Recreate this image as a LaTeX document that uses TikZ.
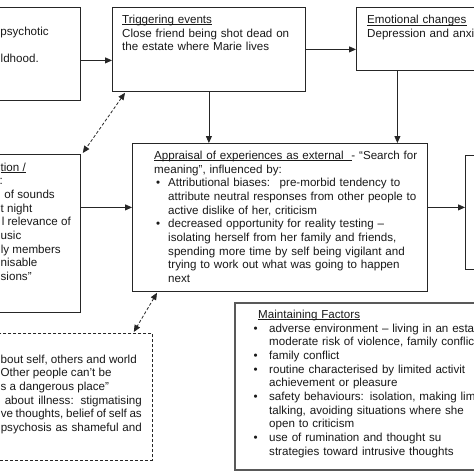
\documentclass[tikz,border=0pt]{standalone}
\usepackage{fontspec}
\setmainfont{Liberation Sans}
\usetikzlibrary{arrows.meta,calc}
\newcommand\myul[1]{\setbox0\hbox{#1}\rlap{\rule[-1.7pt]{\wd0}{0.6pt}}\box0}
\newcommand\bulA{\makebox[14pt][l]{\hspace{2pt}\textbullet}}
\newcommand\indA{\hspace*{14pt}}
\newcommand\bulB{\makebox[16pt][l]{\hspace{0.5pt}\textbullet}}
\newcommand\indB{\hspace*{16pt}}
\begin{document}
\begin{tikzpicture}[x=1pt,y=-1pt,
  box/.style={draw=black!85, line width=0.8pt, inner sep=0pt, anchor=north west},
  dbox/.style={box, dash pattern=on 3pt off 2pt},
  mbox/.style={box, draw=black!65, line width=1.6pt},
  txt/.style={inner sep=0pt, font=\fontsize{11.6}{13.7}\selectfont, text=black!90},
  para/.style={txt, anchor=base west, align=left},
  frag/.style={txt, anchor=base east},
  lfrag/.style={txt, anchor=base west},
  arr/.style={-{Triangle[length=7pt,width=6pt]}, line width=0.8pt, draw=black!85},
  darr/.style={{Triangle[length=7pt,width=6pt]}-{Triangle[length=7pt,width=6pt]}, line width=0.8pt, draw=black!85, dash pattern=on 3pt off 2pt}]
\useasboundingbox (0,0) rectangle (474,474);
\clip (0,0) rectangle (474,474);
\fill[white] (0,0) rectangle (474,474);

% boxes
\node[box, minimum width=90pt, minimum height=93pt] (hist) at (-10,7) {};
\node[box, minimum width=193pt, minimum height=84pt] (trig) at (112,7) {};
\node[box, minimum width=134pt, minimum height=63pt] (emo) at (356,7) {};
\node[box, minimum width=90pt, minimum height=158pt] (lm) at (-10,154) {};
\node[box, minimum width=295pt, minimum height=148pt] (appr) at (132,143) {};
\node[box, minimum width=25pt, minimum height=114pt] (rbox) at (465,155) {};
\node[dbox, minimum width=162pt, minimum height=127pt] (db) at (-10,333) {};
\node[mbox, minimum width=256pt, minimum height=167pt] (maint) at (234,302) {};

% top-left fragments
\node[frag] (h1) at (49,35.5) {psychotic};
\node[lfrag] (h2) at (0.5,62.9) {ldhood.};

% triggering
\node[para, text width=190pt] (trigtext) at (122,23.3) {\myul{Triggering events}\\Close friend being shot dead on\\the estate where Marie lives};

% emotional
\node[para, text width=120pt] (emotext) at (367,23.5) {\myul{Emotional changes}\\Depression and anxi};

% left middle fragments
\node[lfrag] (l1) at (0.5,171) {\myul{tion /}};
\node[frag] (l2) at (3,184.7) {:};
\node[frag] (l3) at (55,198.4) {of sounds};
\node[lfrag] (l4) at (0.5,212.1) {t night};
\node[frag] (l5) at (71,225.8) {l relevance of};
\node[lfrag] (l6) at (0.5,239.5) {usic};
\node[frag] (l7) at (61,253.2) {ly members};
\node[lfrag] (l8) at (0.5,266.9) {nisable};
\node[lfrag] (l9) at (0.5,280.6) {sions”};

% appraisal
\node[para, text width=285pt] (apprtext) at (154,159.3) {\myul{Appraisal of experiences as external~~}-~“Search for\\
meaning”, influenced by:\\
\bulA Attributional biases:~ pre-morbid tendency to\\
\indA attribute neutral responses from other people to\\
\indA active dislike of her, criticism\\
\bulA decreased opportunity for reality testing –\\
\indA isolating herself from her family and friends,\\
\indA spending more time by self being vigilant and\\
\indA trying to work out what was going to happen\\
\indA next};

% dashed box fragments
\node[lfrag] (d1) at (0.5,363) {bout self, others and world};
\node[lfrag] (d2) at (0.5,376.7) {Other people can’t be};
\node[lfrag] (d3) at (0.5,390.4) {s a dangerous place”};
\node[frag] (d4) at (142,404.1) {\makebox[137pt][s]{about illness: stigmatising}};
\node[frag] (d5) at (142,417.8) {\makebox[141pt][s]{ve thoughts, belief of self as}};
\node[frag] (d6) at (142,431.5) {\makebox[141pt][s]{psychosis as shameful and}};

% maintaining
\node[para, text width=300pt] (mainttext) at (253,318.3) {\hspace*{5pt}\myul{Maintaining Factors}\\
\bulB\makebox[204pt][s]{adverse environment – living in an esta}\\
\indB moderate risk of violence, family conflic\\
\bulB family conflict\\
\bulB\makebox[204pt][s]{routine characterised by limited activit}\\
\indB achievement or pleasure\\
\bulB\makebox[204pt][s]{safety behaviours: isolation, making lim}\\
\indB\makebox[203.5pt][s]{talking, avoiding situations where she}\\
\indB open to criticism\\
\bulB\makebox[203.5pt][s]{use of rumination and thought su}\\
\indB strategies toward intrusive thoughts};

% connectors
\draw[arr] ([yshift=-6.5pt]hist.east) coordinate (a1) -- (a1 -| trig.west);
\draw[arr] (trig.east) -- (trig.east -| emo.west);
\draw[arr] (trig.south) -- (trig.south |- appr.north);
\draw[arr] ([xshift=-26pt]emo.south) coordinate (a2) -- (a2 |- appr.north);
\draw[arr] ([yshift=10pt]appr.west -| lm.east) -- ([yshift=10pt]appr.west);
\draw[arr] ([yshift=10pt]appr.east) coordinate (a3) -- (a3 -| rbox.west);
\draw[darr] ([xshift=13pt,yshift=-1pt]trig.south west) -- ([xshift=2pt,yshift=1pt]lm.north east);
\draw[darr] ([xshift=25pt,yshift=-1pt]appr.south west) -- ([xshift=-19pt,yshift=1pt]db.north east);
\end{tikzpicture}
\end{document}
